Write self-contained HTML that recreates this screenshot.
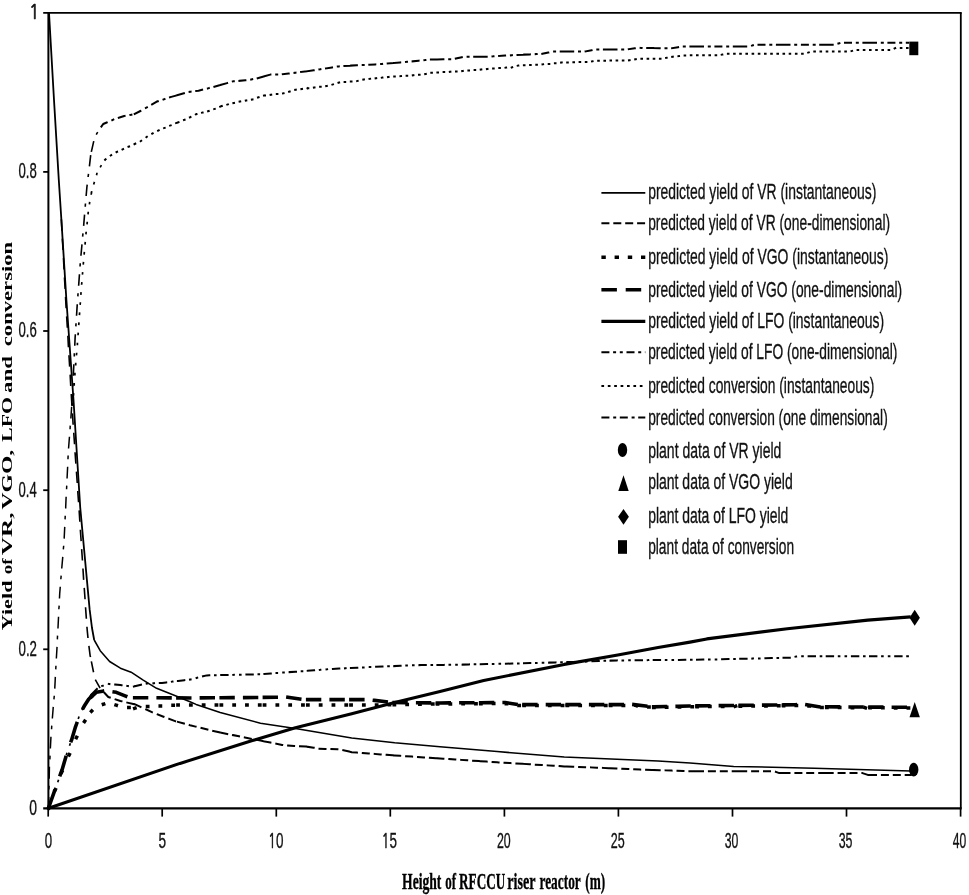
<!DOCTYPE html>
<html><head><meta charset="utf-8"><title>Yield of VR, VGO, LFO and conversion vs height of RFCCU riser reactor</title>
<style>html,body{margin:0;padding:0;background:#fff}svg{display:block}</style></head>
<body>
<svg width="969" height="895" viewBox="0 0 969 895">
<rect width="969" height="895" fill="#fff"/>
<g id="curves">
<path fill="none" stroke="#000" stroke-width="1.50" stroke-linecap="square" stroke-linejoin="round" d="M48.5,808.0 L48.7,797.7 M48.9,788.7 L49.0,786.5 M49.2,777.9 L49.4,767.5 M49.9,758.6 L50.0,756.4 M50.4,747.8 L50.9,738.0 L50.9,737.5 M51.6,728.5 L51.7,726.4 M52.4,717.8 L53.1,709.0 L53.2,707.6 M54.0,698.6 L54.2,696.5 M54.8,687.9 L55.2,680.0 L55.3,677.6 M55.8,668.6 L55.9,666.5 M56.4,657.8 L57.0,647.6 M57.4,638.6 L57.5,636.4 M58.0,627.8 L58.5,617.5 M58.9,608.5 L59.1,606.4 M59.5,597.7 L59.7,593.6 L60.2,587.5 M60.9,578.5 L61.1,576.4 M61.8,567.8 L62.7,557.6 M63.4,548.6 L63.6,546.5 M64.2,537.9 L64.7,527.6 M65.1,518.6 L65.2,516.5 M65.7,507.8 L65.7,507.0 L66.1,497.5 M66.6,488.5 L66.7,486.4 M67.1,477.8 L67.6,467.5 M68.0,458.5 L68.1,456.3 M68.6,447.7 L69.4,437.5 M70.1,428.5 L70.2,426.4 M70.9,417.8 L71.6,407.5"/>
<path fill="none" stroke="#000" stroke-width="2.0" stroke-linecap="square" stroke-linejoin="round" d="M105.1,159.8 L105.6,159.3 M110.7,155.5 L111.2,155.2 M116.5,152.1 L116.8,151.9 L117.1,151.8 M122.5,149.4 L123.1,149.1 M128.5,146.7 L129.1,146.5 M134.5,144.1 L134.7,144.0 M134.7,144.0 L135.3,143.7 M140.7,141.2 L141.2,140.8 M146.4,137.2 L146.9,136.8 M152.2,133.7 L152.7,133.4 M158.1,130.7 L158.7,130.4 M164.1,128.1 L164.7,127.9 M170.1,125.6 L170.7,125.4 M176.1,123.1 L176.7,122.9 M177.9,122.4 L178.5,122.2 M184.0,120.0 L184.6,119.8 M189.9,117.3 L190.5,117.0 M195.9,114.3 L196.0,114.2 L196.5,114.1 M202.0,112.7 L202.6,112.6 M208.1,111.2 L208.7,111.0 M214.2,109.1 L214.8,108.9 M220.2,106.6 L220.8,106.3 M221.2,106.2 L221.8,106.0 M227.3,104.6 L227.9,104.4 M233.4,103.0 L234.0,102.9 M239.6,101.6 L240.2,101.5 M245.8,100.6 L246.3,100.5 M251.9,99.6 L252.5,99.5 M258.0,97.5 L258.6,97.3 M264.0,95.5 L264.4,95.4 M264.4,95.4 L265.0,95.4 M270.6,94.8 L271.2,94.7 M276.8,94.1 L277.4,94.1 M283.0,93.4 L283.6,93.3 M289.1,91.7 L289.7,91.5 M295.2,89.8 L295.8,89.7 M301.4,89.0 L302.0,88.9 M307.6,88.3 L307.7,88.2 M307.7,88.2 L308.3,88.2 M313.9,87.5 L314.5,87.4 M320.1,86.7 L320.7,86.7 M326.2,86.0 L326.8,85.9 M332.4,84.6 L333.0,84.4 M338.5,82.7 L339.1,82.5 M344.6,82.0 L345.2,82.0 M350.8,81.6 L350.9,81.6 M350.9,81.6 L351.5,81.6 M357.1,81.1 L357.7,80.9 M363.3,79.6 L363.9,79.5 M369.5,78.9 L370.1,78.8 M375.6,78.3 L376.2,78.2 M381.8,77.7 L382.4,77.6 M388.0,77.1 L388.6,77.0 M394.2,76.6 L394.8,76.6 M400.4,76.2 L401.0,76.1 M406.6,75.7 L407.2,75.7 M412.8,75.3 L413.4,75.2 M419.0,74.8 L419.6,74.8 M425.2,74.1 L425.8,74.0 M431.3,72.8 L431.9,72.8 M437.4,72.4 L438.0,72.4 M443.6,72.1 L444.2,72.1 M449.8,71.8 L450.4,71.7 M456.0,71.4 L456.6,71.4 M462.2,71.0 L462.8,70.9 M468.4,70.5 L469.0,70.5 M474.6,70.0 L475.2,70.0 M480.7,69.6 L481.3,69.5 M486.9,69.1 L487.5,69.0 M493.1,68.6 L493.7,68.6 M499.3,68.1 L499.9,68.1 M505.5,67.7 L506.1,67.6 M511.7,67.5 L512.2,67.3 M517.7,65.7 L518.3,65.6 M523.9,65.3 L524.0,65.3 M524.0,65.3 L524.5,65.3 M530.1,65.0 L530.7,65.0 M536.3,64.7 L536.9,64.7 M542.5,64.4 L543.1,64.3 M548.7,64.0 L549.3,64.0 M554.9,63.3 L555.5,63.3 M561.1,62.6 L561.7,62.5 M567.2,62.4 L567.8,62.4 M573.4,62.3 L574.0,62.3 M579.6,62.1 L580.2,62.1 M585.8,62.0 L586.4,62.0 M592.0,61.4 L592.6,61.3 M598.2,60.8 L598.8,60.8 M604.4,60.7 L605.0,60.7 M610.5,60.6 L611.0,60.6 M616.6,60.5 L617.2,60.5 M622.8,60.4 L623.4,60.4 M629.0,60.3 L629.6,60.2 M635.2,59.3 L635.8,59.2 M641.4,58.8 L642.0,58.8 M647.6,58.8 L648.2,58.8 M653.7,58.8 L654.3,58.8 M659.9,58.8 L660.5,58.8 M666.1,57.9 L666.7,57.8 M672.2,56.8 L672.8,56.7 M678.4,56.2 L679.0,56.1 M684.6,55.6 L685.2,55.6 M690.8,55.3 L691.4,55.3 M697.0,55.3 L697.6,55.3 M703.2,55.3 L703.8,55.3 M709.4,55.3 L710.0,55.3 M715.6,55.3 L716.2,55.3 M721.7,54.7 L722.3,54.6 M727.9,53.8 L728.5,53.8 M734.1,53.8 L734.7,53.8 M740.2,53.8 L740.8,53.8 M746.4,53.8 L747.0,53.8 M752.6,53.8 L753.2,53.8 M758.8,53.8 L759.4,53.8 M765.0,53.8 L765.6,53.8 M771.2,53.8 L771.8,53.8 M777.4,53.8 L778.0,53.8 M783.5,53.8 L784.1,53.8 M789.7,53.8 L790.2,53.8 M795.9,53.8 L796.5,53.8 M802.1,53.8 L802.7,53.8 M808.2,52.6 L808.8,52.4 M814.3,51.6 L814.9,51.6 M820.5,51.6 L821.1,51.6 M826.7,51.6 L827.3,51.6 M832.9,51.6 L833.5,51.6 M839.1,51.6 L839.7,51.6 M845.3,51.6 L845.9,51.6 M851.5,51.1 L852.1,50.9 M857.6,50.1 L858.2,50.1 M863.8,50.1 L864.4,50.1 M870.0,50.1 L870.6,50.1 M876.2,50.1 L876.8,50.1 M882.4,50.1 L883.0,50.1 M888.6,50.1 L889.2,50.1 M894.6,48.5 L895.2,48.2 M900.8,47.9 L901.4,47.9 M907.0,47.9 L907.6,47.9"/>
<path fill="none" stroke="#000" stroke-width="1.70" stroke-linecap="square" stroke-linejoin="round" d="M72.8,405.0 L72.9,404.0 M73.5,394.9 L73.6,393.9 M74.2,384.8 L74.2,383.8 M74.9,374.7 L74.9,373.7 M75.7,364.6 L75.7,363.6 M76.5,354.5 L76.6,353.6 M77.4,344.5 L77.4,343.5 M78.1,334.4 L78.2,333.4 M78.8,324.3 L78.9,323.3 M79.5,314.2 L79.6,313.2 M80.2,304.1 L80.3,303.1 M80.9,294.0 L81.0,293.0 M81.7,283.9 L81.8,282.9 M82.5,273.8 L82.6,272.9 M83.3,263.8 L83.4,262.8 M84.2,253.7 L84.3,252.7 M85.1,243.7 L85.2,242.7 M86.0,233.6 L86.1,232.6 M87.1,223.6 L87.2,222.6 M88.1,213.6 L88.2,212.6 M89.5,203.6 L89.6,202.7 M91.3,193.9 L91.4,193.0 M91.5,192.8 L91.6,191.9 M93.9,183.6 L94.2,182.7 M96.7,174.4 L96.9,173.6 L96.9,173.5 M100.6,166.6 L101.0,165.9"/>
<path fill="none" stroke="#000" stroke-width="2.0" stroke-linecap="square" stroke-linejoin="round" d="M101.4,126.6 L103.2,124.0 L106.7,122.5 M112.3,120.1 L113.3,119.6 M118.8,117.8 L124.2,116.0 L124.6,115.9 M130.4,114.9 L131.4,114.7 M134.7,113.9 L140.4,111.0 M145.9,107.9 L146.9,107.4 M152.1,104.3 L156.4,101.8 L157.8,101.3 M163.5,99.5 L164.5,99.1 M170.0,97.3 L171.3,96.9 L175.9,95.6 M177.9,95.0 L183.9,93.3 M189.6,91.8 L190.6,91.7 M196.2,91.0 L198.5,90.7 L202.1,89.8 M207.9,88.4 L208.8,88.1 M214.4,86.7 L220.3,85.0 M221.2,84.8 L227.1,83.1 M232.8,81.4 L233.2,81.3 L233.8,81.3 M239.4,80.8 L245.4,80.3 M251.2,79.5 L252.2,79.3 M257.7,78.2 L263.6,76.5 M264.4,76.3 L270.3,74.6 L270.4,74.6 M276.2,74.6 L277.2,74.6 M282.8,74.2 L288.7,73.5 M294.5,72.8 L295.5,72.7 M301.1,72.0 L307.1,71.3 M307.7,71.2 L313.7,70.3 M319.4,69.4 L320.4,69.2 M326.0,68.4 L332.0,67.4 M337.8,66.5 L338.8,66.4 M344.4,66.0 L350.4,65.7 M350.9,65.6 L356.7,65.3 L356.9,65.3 M362.7,65.0 L363.7,65.0 M369.3,64.7 L375.3,64.4 M381.1,64.1 L381.5,64.1 L382.1,64.0 M387.7,63.5 L393.7,63.0 M394.2,63.0 L400.2,62.4 M406.0,61.9 L407.0,61.8 M412.6,61.3 L418.6,60.7 M424.4,60.2 L425.4,60.1 M430.9,59.6 L431.0,59.6 L436.9,59.5 M437.4,59.5 L443.4,59.3 M449.2,59.2 L450.2,59.2 M455.8,58.6 L461.8,57.3 M467.6,56.7 L468.6,56.7 M474.2,56.7 L480.2,56.7 M480.7,56.7 L486.7,56.7 M492.5,56.4 L493.5,56.3 M499.1,56.0 L505.1,55.6 M510.9,55.3 L511.9,55.2 M517.5,54.9 L523.5,54.7 M524.0,54.6 L529.9,54.4 M535.7,54.1 L536.7,54.0 M542.3,53.8 L548.3,52.6 M554.1,51.6 L555.1,51.6 M560.7,51.6 L566.7,51.6 M567.2,51.6 L573.2,51.6 M579.0,51.6 L580.0,51.6 M585.6,51.4 L591.6,50.3 M597.3,49.6 L598.3,49.6 M603.9,49.6 L609.9,49.6 M610.5,49.6 L616.5,49.6 M622.2,49.6 L623.2,49.6 M628.8,49.2 L634.8,48.3 M640.6,47.9 L641.6,48.0 M647.2,48.0 L653.2,48.1 M653.7,48.1 L659.7,48.2 M665.5,48.3 L666.5,48.3 M672.1,48.2 L678.1,47.2 M683.8,46.4 L684.8,46.4 M690.4,46.4 L696.4,46.4 M697.0,46.4 L703.0,46.4 M708.8,46.4 L709.8,46.4 M715.4,46.4 L721.4,46.4 M727.2,46.4 L728.2,46.4 M733.8,46.4 L739.8,46.4 M740.2,46.4 L746.2,46.4 M752.0,45.6 L752.9,45.3 M758.5,44.7 L764.5,44.7 M770.3,44.7 L771.3,44.7 M776.9,44.7 L782.9,44.7 M783.5,44.7 L789.5,44.7 M795.2,44.7 L796.2,44.7 M801.9,44.7 L807.9,44.7 M813.7,44.7 L814.7,44.7 M820.2,44.7 L826.2,44.7 M826.7,44.7 L832.7,44.7 M838.4,43.5 L839.4,43.2 M845.0,42.7 L851.0,42.7 M856.8,42.7 L857.8,42.7 M863.4,42.7 L869.4,42.7 M870.0,42.7 L876.0,42.7 M881.8,42.7 L882.8,42.7 M888.4,42.7 L894.4,42.7 M900.2,42.7 L901.2,42.7 M906.8,42.7 L908.2,42.7"/>
<path fill="none" stroke="#000" stroke-width="1.60" stroke-linecap="square" stroke-linejoin="round" d="M71.8,405.0 L72.3,395.2 M72.8,385.7 L72.9,384.1 M73.3,374.9 L73.5,371.4 L73.8,365.1 M74.3,355.7 L74.3,354.0 M74.8,344.9 L75.1,337.9 L75.3,335.1 M75.9,325.6 L76.0,324.0 M76.6,314.9 L77.2,305.1 M77.9,295.6 L78.0,294.0 M78.7,284.9 L79.4,275.1 M80.1,265.7 L80.2,264.1 L80.2,264.1 M81.0,255.0 L81.9,245.2 M82.7,235.8 L82.9,234.2 M83.7,225.1 L84.5,215.4 M85.3,206.0 L85.4,204.3 M86.2,195.2 L86.9,187.0 L87.1,185.5 M88.2,176.2 L88.4,174.6 M89.5,165.6 L90.6,155.9 M91.5,151.1 L93.6,141.9 M96.6,134.0 L96.9,133.4 L97.3,132.8"/>
<path fill="none" stroke="#000" stroke-width="2.0" stroke-linecap="square" stroke-linejoin="round" d="M91.5,694.5 L96.9,689.0 M102.2,685.9 L102.8,685.8 M108.8,684.0 L109.4,684.1 M115.2,684.6 L120.4,685.0 L121.6,685.2 M127.3,686.0 L127.9,686.1 M133.9,686.4 L134.5,686.2 M134.7,686.2 L141.0,684.7 M146.7,683.6 L147.3,683.5 M153.4,683.3 L154.0,683.2 M159.8,683.0 L162.0,682.9 L166.2,682.4 M171.9,681.7 L172.5,681.6 M177.9,680.9 L178.1,680.9 L184.3,680.2 M190.0,679.5 L190.6,679.4 M196.6,677.9 L197.2,677.7 M203.0,676.3 L206.8,675.4 L209.3,675.3 M215.0,675.2 L215.6,675.2 M221.2,675.1 L227.6,675.0 M233.3,674.9 L233.9,674.8 M240.0,674.7 L240.6,674.7 M246.4,674.6 L252.8,674.5 M258.5,674.3 L259.1,674.3 M264.4,674.0 L270.8,673.5 M276.5,673.1 L277.1,673.1 M283.2,672.6 L283.8,672.6 M289.6,672.1 L295.4,671.7 L296.0,671.7 M301.7,671.2 L302.3,671.2 M307.7,670.8 L314.1,670.3 M319.8,669.9 L320.4,669.8 M326.5,669.4 L327.1,669.3 M332.9,668.9 L335.6,668.7 L339.3,668.5 M345.0,668.3 L345.6,668.2 M350.9,668.0 L357.3,667.7 M363.0,667.4 L363.6,667.4 M369.7,667.1 L370.3,667.1 M376.1,666.8 L382.5,666.5 M388.2,666.3 L388.8,666.3 M394.2,666.1 L400.6,665.8 M406.3,665.6 L406.9,665.6 M413.0,665.3 L413.6,665.3 M419.4,665.1 L421.5,665.0 L425.8,665.0 M431.5,665.0 L432.1,665.0 M437.4,665.0 L440.0,665.0 L443.8,664.9 M449.5,664.8 L450.1,664.8 M456.2,664.7 L456.8,664.7 M462.6,664.6 L469.0,664.4 M474.7,664.3 L475.3,664.3 M480.7,664.2 L487.1,664.1 M492.8,664.0 L493.4,664.0 M499.5,663.8 L500.1,663.8 M505.9,663.7 L512.3,663.5 M518.0,663.4 L518.6,663.4 M524.0,663.2 L530.3,663.1 M536.0,662.9 L536.6,662.9 M542.7,662.7 L543.3,662.7 M549.1,662.6 L555.5,662.4 M561.2,662.3 L561.8,662.3 M567.2,662.1 L573.6,661.9 M579.3,661.7 L579.9,661.7 M586.0,661.5 L586.6,661.4 M592.4,661.3 L598.8,661.0 M604.5,660.8 L605.1,660.8 M610.5,660.6 L616.8,660.4 M622.5,660.4 L623.1,660.4 M629.2,660.3 L629.8,660.3 M635.6,660.3 L642.0,660.2 M647.7,660.2 L648.3,660.1 M653.7,660.1 L660.1,660.0 M665.8,660.0 L666.4,660.0 M672.5,659.9 L673.1,659.9 M678.9,659.9 L685.3,659.8 M691.0,659.8 L691.6,659.8 M697.0,659.7 L703.3,659.6 M709.0,659.5 L709.6,659.5 M715.7,659.4 L716.3,659.4 M722.1,659.2 L728.5,659.1 M734.2,659.0 L734.8,659.0 M740.2,658.8 L746.6,658.7 M752.3,658.6 L752.9,658.5 M759.0,658.4 L759.6,658.4 M765.4,658.3 L771.8,658.1 M777.5,658.0 L778.1,658.0 M783.5,657.8 L789.8,657.7 M795.5,656.7 L796.1,656.6 M802.2,656.3 L802.8,656.3 M808.6,656.3 L815.0,656.3 M820.7,656.3 L821.3,656.3 M826.7,656.3 L833.1,656.3 M838.8,656.3 L839.4,656.3 M845.5,656.3 L846.1,656.3 M851.9,656.3 L858.3,656.3 M864.0,656.3 L864.6,656.3 M870.0,656.3 L876.4,656.3 M882.1,656.3 L882.7,656.3 M888.8,656.3 L889.4,656.3 M895.2,656.3 L901.6,656.3 M907.2,656.3 L907.9,656.3"/>
<path fill="none" stroke="#000" stroke-width="1.70" stroke-linecap="square" stroke-linejoin="round" d="M48.5,808.0 L51.7,798.9 M54.6,790.9 L54.9,790.0 M58.0,781.4 L58.3,780.5 M61.2,772.3 L62.1,769.7 L64.1,762.9 M66.5,754.5 L66.8,753.6 M69.8,745.0 L70.1,744.1 M72.8,735.7 L75.5,726.8 L75.7,726.3 M78.5,718.2 L78.8,717.3 M82.4,709.4 L82.8,708.7 M86.8,701.8 L90.9,695.0 L91.4,694.5"/>
<path fill="none" stroke="#000" stroke-width="2.0" stroke-linecap="square" stroke-linejoin="round" d="M104.6,693.0 L108.3,697.0 L109.8,697.5 M115.6,699.4 L120.4,701.0 L121.5,701.2 M127.3,702.6 L133.3,704.0 M134.7,704.3 L135.1,704.4 L140.5,706.9 M146.2,709.5 L151.9,712.2 M157.7,714.5 L163.5,716.7 M169.3,718.9 L175.1,721.1 M177.9,721.9 L183.9,723.5 M189.7,725.1 L190.0,725.2 L195.6,726.6 M201.5,728.0 L207.4,729.5 M213.2,730.9 L219.2,732.3 M221.2,732.8 L227.2,734.0 M233.0,735.1 L239.0,736.3 M244.8,737.5 L250.8,738.7 M256.6,739.8 L260.5,740.6 L262.6,741.0 M264.4,741.4 L270.4,742.6 M276.3,743.7 L282.2,744.9 M288.1,745.6 L294.1,745.9 M300.0,746.2 L306.0,746.5 M307.7,746.8 L313.7,747.7 M319.5,748.7 L325.5,748.9 M331.4,749.0 L337.4,749.2 M343.3,750.3 L349.2,751.6 M350.9,752.0 L351.7,752.2 L356.9,752.6 M362.8,753.0 L368.8,753.5 M374.7,753.9 L380.7,754.4 M386.6,754.8 L392.6,755.2 M394.2,755.4 L394.7,755.4 L400.2,755.8 M406.1,756.2 L412.1,756.6 M418.0,757.0 L424.0,757.4 M429.9,757.8 L435.9,758.2 M437.4,758.3 L440.0,758.5 L443.4,758.7 M449.3,759.1 L455.3,759.5 M461.2,759.9 L467.2,760.3 M473.1,760.7 L479.1,761.1 M480.7,761.2 L486.7,761.6 M492.6,762.0 L497.1,762.3 L498.6,762.4 M504.5,762.8 L510.5,763.1 M516.4,763.5 L522.4,763.8 M524.0,763.9 L529.9,764.3 M535.8,764.7 L541.8,765.0 M547.7,765.4 L553.7,765.8 M559.6,766.1 L564.2,766.4 L565.6,766.5 M567.2,766.5 L573.2,766.8 M579.1,767.0 L585.1,767.2 M591.0,767.4 L597.0,767.7 M602.9,767.9 L608.9,768.2 M610.5,768.2 L616.4,768.4 M622.3,768.7 L628.3,769.0 M634.2,769.3 L640.2,769.6 M646.1,769.8 L652.1,770.0 M653.7,770.1 L659.7,770.3 M665.6,770.4 L671.6,770.6 M677.5,770.8 L683.5,771.0 M689.4,771.2 L690.0,771.2 L695.4,771.2 M697.0,771.2 L703.0,771.2 M708.9,771.2 L714.9,771.2 M720.8,771.2 L726.8,771.2 M732.7,771.2 L738.7,771.2 M740.2,771.2 L746.2,771.2 M752.1,771.2 L758.1,771.2 M764.0,771.2 L770.0,771.2 M775.9,771.9 L779.3,773.1 L781.8,773.1 M783.5,773.1 L789.5,773.1 M795.4,773.1 L801.4,773.1 M807.2,773.1 L813.2,773.1 M819.2,773.1 L825.2,773.1 M826.7,773.1 L832.7,773.1 M838.6,773.1 L844.6,773.1 M850.5,773.1 L856.5,773.1 M862.4,773.1 L862.5,773.1 L867.8,774.9 L868.3,774.9 M870.0,774.9 L876.0,774.9 M881.9,774.9 L887.9,774.9 M893.8,774.9 L899.8,774.9 M905.7,774.9 L910.7,774.9"/>
<path fill="none" stroke="#000" stroke-width="1.60" stroke-linecap="square" stroke-linejoin="round" d="M61.4,220.0 L61.9,229.8 M62.4,239.4 L63.0,249.2 M63.5,258.9 L64.0,268.7 M64.5,278.3 L65.1,288.1 M65.6,297.7 L65.7,300.0 L66.1,307.5 M66.7,317.2 L67.3,326.9 M67.9,336.6 L68.4,346.4 M69.0,356.0 L69.6,365.8 M70.2,375.4 L70.7,385.2 M71.3,394.8 L71.9,404.6 M72.5,414.2 L73.1,424.0 M73.8,433.6 L74.5,443.4 M75.1,453.0 L75.8,462.8 M76.5,472.4 L77.2,482.2 M77.8,491.8 L78.5,501.5 M79.2,511.2 L79.8,520.9 M80.4,530.6 L81.1,540.3 M81.7,549.9 L82.4,559.7 M83.0,569.3 L83.6,579.1 M84.3,588.7 L85.0,598.5 M85.6,608.1 L86.3,617.9 M87.0,627.5 L87.2,630.0 L87.9,637.2 M89.0,646.7 L90.2,656.1 L90.3,656.3 M91.5,662.2 L93.4,671.5 M95.7,680.3 L99.7,687.5"/>
<polyline fill="none" stroke="#000" stroke-width="1.8" stroke-linejoin="round" points="49.0,12.8 54.0,100.0 58.8,180.0 61.4,220.0 66.4,300.0 73.5,400.0 80.2,507.3 89.6,609.2 92.0,628.0 94.2,640.0"/>
<polyline fill="none" stroke="#000" stroke-width="1.55" stroke-linejoin="round" points="94.2,640.0 100.2,650.7 109.6,661.5 120.4,668.2 131.1,672.2 143.2,680.2 156.6,688.3 175.4,695.7 190.0,701.7 196.1,704.4 220.2,712.4 260.5,723.2 295.4,728.5 351.7,737.9 394.7,742.8 440.0,746.8 497.1,751.6 564.2,757.0 658.1,761.0 690.0,763.1 733.7,766.4 814.2,768.2 910.7,770.9"/>
<path fill="none" stroke="#000" stroke-width="3.5" stroke-linecap="square" stroke-linejoin="round" d="M91.5,711.2 L91.7,711.0 M103.4,704.2 L103.7,704.1 M116.0,705.1 L116.3,705.2 M128.8,707.5 L129.1,707.5 M134.7,708.3 L135.0,708.2 M147.5,706.5 L147.8,706.5 M160.2,705.9 L160.5,705.9 M173.0,705.3 L173.3,705.3 M177.9,705.1 L178.1,705.1 L178.2,705.1 M190.7,705.1 L191.0,705.1 M203.5,705.1 L203.8,705.1 M216.3,705.1 L216.6,705.1 M221.2,705.1 L221.5,705.1 M234.0,705.0 L234.3,705.0 M246.8,705.0 L247.1,705.0 M259.6,705.0 L259.9,705.0 M264.4,705.0 L264.7,705.0 M277.2,705.0 L277.5,705.0 M290.0,705.0 L290.3,705.0 M302.8,705.0 L303.1,705.0 M307.7,705.0 L308.0,705.0 M320.5,705.0 L320.8,705.0 M333.3,704.9 L333.6,704.9 M346.1,704.9 L346.4,704.9 M350.9,704.9 L351.2,704.9 M363.7,704.9 L364.0,704.9 M376.5,704.9 L376.8,704.9 M389.3,704.8 L389.6,704.8 M394.2,704.7 L394.5,704.7 M407.0,704.5 L407.3,704.5 M419.8,704.3 L420.1,704.3 M432.6,704.1 L432.9,704.1 M437.4,704.0 L437.7,704.0 M450.2,703.9 L450.5,703.9 M463.0,703.8 L463.3,703.8 M475.8,703.7 L476.1,703.7 M480.7,703.7 L481.0,703.7 M493.5,703.6 L493.8,703.6 M506.3,703.7 L506.6,703.7 M519.0,705.4 L519.3,705.4 M524.0,705.4 L524.2,705.4 M536.8,705.4 L537.1,705.4 M549.6,705.4 L549.9,705.4 M562.4,705.4 L562.7,705.4 M567.2,705.4 L567.5,705.4 M580.0,705.4 L580.3,705.4 M592.8,705.4 L593.1,705.4 M605.6,705.4 L605.9,705.4 M610.5,705.4 L610.8,705.4 M623.2,705.4 L623.6,705.4 M636.0,705.6 L636.3,705.7 M648.8,707.1 L649.1,707.1 M653.7,707.5 L654.0,707.5 M666.5,707.2 L666.8,707.2 M679.3,707.0 L679.6,707.0 M692.1,706.8 L692.4,706.8 M697.0,706.7 L697.2,706.7 M709.7,706.6 L710.0,706.6 M722.5,706.4 L722.8,706.4 M735.3,706.3 L735.6,706.2 M740.2,706.2 L740.5,706.2 M753.0,706.0 L753.3,706.0 M765.8,705.9 L766.1,705.9 M778.6,705.7 L778.9,705.7 M783.5,705.7 L783.7,705.7 M796.2,705.5 L796.5,705.5 M809.0,705.9 L809.3,705.9 M821.8,707.5 L822.1,707.5 M826.7,707.5 L827.0,707.5 M839.5,707.6 L839.8,707.6 M852.3,707.7 L852.6,707.7 M865.1,707.7 L865.4,707.8 M870.0,707.8 L870.2,707.8 M882.7,707.8 L883.0,707.8 M895.5,707.9 L895.8,707.9 M908.3,708.0 L908.6,708.0"/>
<path fill="none" stroke="#000" stroke-width="3.50" stroke-linecap="square" stroke-linejoin="round" d="M48.5,808.0 L48.7,807.6 M55.1,790.0 L55.3,789.6 M61.7,772.1 L61.9,771.7 M69.1,755.0 L69.3,754.6 M76.4,737.7 L76.6,737.3 M84.5,721.5 L84.7,721.2"/>
<path fill="none" stroke="#000" stroke-width="3.6" stroke-linecap="square" stroke-linejoin="round" d="M91.5,696.6 L96.2,692.3 L102.5,691.2 M114.2,692.0 L116.3,692.3 L125.7,696.1 M134.7,697.7 L146.5,697.8 M158.2,697.8 L170.0,697.9 M177.9,697.9 L189.7,698.0 M201.4,697.9 L213.2,697.8 M221.2,697.7 L233.0,697.6 M244.7,697.6 L256.5,697.5 M264.4,697.4 L276.2,697.3 M287.9,697.3 L299.7,699.0 M307.7,699.6 L319.5,699.6 M331.2,699.6 L343.0,699.6 M350.9,699.6 L362.8,699.6 M374.4,700.4 L386.2,701.8 M394.2,702.5 L406.0,702.6 M417.7,702.8 L429.5,702.9 M437.4,703.0 L440.0,703.0 L449.2,702.9 M460.9,702.8 L472.7,702.7 M480.7,702.7 L492.5,702.6 M504.2,702.5 L505.1,702.5 L516.0,704.2 M524.0,704.6 L535.8,704.6 M547.5,704.6 L559.2,704.6 M567.2,704.6 L579.0,704.6 M590.7,704.6 L602.5,704.6 M610.5,704.6 L622.2,704.6 M633.9,704.6 L645.7,706.0 M653.7,706.8 L665.5,706.5 M677.2,706.3 L689.0,706.0 M697.0,705.9 L708.7,705.8 M720.4,705.6 L732.2,705.5 M740.2,705.4 L752.0,705.3 M763.7,705.1 L775.5,705.0 M783.5,704.9 L795.2,704.7 M806.9,704.8 L818.7,706.7 M826.7,706.8 L838.5,706.9 M850.2,707.0 L862.0,707.0 M870.0,707.1 L881.7,707.1 M893.4,707.2 L905.2,707.3"/>
<path fill="none" stroke="#000" stroke-width="3.60" stroke-linecap="square" stroke-linejoin="round" d="M48.5,808.0 L54.4,791.3 M60.3,774.7 L62.1,769.7 L65.7,757.5 M71.3,740.7 L71.5,740.2 L75.5,726.8 L76.7,723.5 M83.3,707.8 L84.6,705.5 L88.8,699.0 L91.5,696.6"/>
<polyline fill="none" stroke="#000" stroke-width="3.1" stroke-linejoin="round" points="48.5,808.2 180.0,763.4 252.4,740.6 295.4,727.7 351.7,713.8 394.7,702.5 440.0,691.5 483.7,680.5 564.2,664.4 617.8,655.0 658.1,647.5 690.0,642.1 706.8,638.9 787.3,628.7 867.8,620.1 910.7,616.9"/>
</g>
<g id="axes">
<line x1="43.2" y1="12.8" x2="961.7" y2="12.8" stroke="#000" stroke-width="1.8"/>
<line x1="960.8" y1="12.8" x2="960.8" y2="808.4" stroke="#000" stroke-width="1.8"/>
<line x1="48.40" y1="11.9" x2="48.40" y2="809.6" stroke="#000" stroke-width="2.0"/>
<line x1="43.2" y1="808.4" x2="961.7" y2="808.4" stroke="#000" stroke-width="2.35"/>
<line x1="43.2" y1="171.9" x2="48.4" y2="171.9" stroke="#000" stroke-width="1.8"/>
<line x1="43.2" y1="331.0" x2="48.4" y2="331.0" stroke="#000" stroke-width="1.8"/>
<line x1="43.2" y1="490.2" x2="48.4" y2="490.2" stroke="#000" stroke-width="1.8"/>
<line x1="43.2" y1="649.3" x2="48.4" y2="649.3" stroke="#000" stroke-width="1.8"/>
<line x1="48.2" y1="808.4" x2="48.2" y2="816.6" stroke="#000" stroke-width="1.7"/>
<line x1="162.2" y1="808.4" x2="162.2" y2="816.6" stroke="#000" stroke-width="1.7"/>
<line x1="276.3" y1="808.4" x2="276.3" y2="816.6" stroke="#000" stroke-width="1.7"/>
<line x1="390.3" y1="808.4" x2="390.3" y2="816.6" stroke="#000" stroke-width="1.7"/>
<line x1="504.4" y1="808.4" x2="504.4" y2="816.6" stroke="#000" stroke-width="1.7"/>
<line x1="618.4" y1="808.4" x2="618.4" y2="816.6" stroke="#000" stroke-width="1.7"/>
<line x1="732.5" y1="808.4" x2="732.5" y2="816.6" stroke="#000" stroke-width="1.7"/>
<line x1="846.5" y1="808.4" x2="846.5" y2="816.6" stroke="#000" stroke-width="1.7"/>
<line x1="960.6" y1="808.4" x2="960.6" y2="816.6" stroke="#000" stroke-width="1.7"/>
</g>
<g id="markers">
<rect x="909.3" y="41.6" width="9.0" height="13.6" fill="#000"/>
<polygon points="914.7,609.7 919.9,617.7 914.7,625.7 909.5,617.7" fill="#000"/>
<polygon points="914.7,702.0 919.9,717.2 909.5,717.2" fill="#000"/>
<ellipse cx="913.7" cy="769.7" rx="4.7" ry="6.9" fill="#000"/>
</g>
<g id="legend">
<line x1="601.4" y1="192.8" x2="645.3" y2="192.8" stroke="#000" stroke-width="1.7"/>
<line x1="601.4" y1="223.2" x2="645.3" y2="223.2" stroke="#000" stroke-width="1.9" stroke-dasharray="8 3.9"/>
<line x1="601.4" y1="257.2" x2="645.3" y2="257.2" stroke="#000" stroke-width="3.6" stroke-dasharray="4.4 8.8"/>
<line x1="601.4" y1="289.8" x2="641.2" y2="289.8" stroke="#000" stroke-width="3.6" stroke-dasharray="15.5 8.8"/>
<line x1="601.4" y1="321.4" x2="645.3" y2="321.4" stroke="#000" stroke-width="3.1"/>
<line x1="601.4" y1="352.3" x2="645.3" y2="352.3" stroke="#000" stroke-width="2.0" stroke-dasharray="8 3.7 3 3.7 3 3.7"/>
<line x1="601.4" y1="386.0" x2="642.8" y2="386.0" stroke="#000" stroke-width="2.0" stroke-dasharray="2.7 3.7"/>
<line x1="601.4" y1="417.5" x2="645.3" y2="417.5" stroke="#000" stroke-width="2.0" stroke-dasharray="8 3.8 3 3.6"/>
<ellipse cx="622.5" cy="450.0" rx="4.7" ry="6.9" fill="#000"/>
<polygon points="623.5,475.3 628.7,490.9 618.3,490.9" fill="#000"/>
<polygon points="623.5,508.9 628.9,516.8 623.5,524.7 618.1,516.8" fill="#000"/>
<rect x="618.0" y="540.2" width="9.0" height="13.6" fill="#000"/>
</g>
<g id="labels">
<text transform="translate(648.17,199.30) scale(0.6189,1)" font-family="'Liberation Sans', Arial, Helvetica, sans-serif" font-weight="normal" font-size="22.5" fill="#111" stroke="#111" stroke-width="0.35">predicted yield of VR (instantaneous)</text>
<text transform="translate(648.18,230.00) scale(0.6148,1)" font-family="'Liberation Sans', Arial, Helvetica, sans-serif" font-weight="normal" font-size="22.5" fill="#111" stroke="#111" stroke-width="0.35">predicted yield of VR (one-dimensional)</text>
<text transform="translate(648.17,264.30) scale(0.6199,1)" font-family="'Liberation Sans', Arial, Helvetica, sans-serif" font-weight="normal" font-size="22.5" fill="#111" stroke="#111" stroke-width="0.35">predicted yield of VGO (instantaneous)</text>
<text transform="translate(648.18,296.70) scale(0.6157,1)" font-family="'Liberation Sans', Arial, Helvetica, sans-serif" font-weight="normal" font-size="22.5" fill="#111" stroke="#111" stroke-width="0.35">predicted yield of VGO (one-dimensional)</text>
<text transform="translate(648.17,328.40) scale(0.6185,1)" font-family="'Liberation Sans', Arial, Helvetica, sans-serif" font-weight="normal" font-size="22.5" fill="#111" stroke="#111" stroke-width="0.35">predicted yield of LFO (instantaneous)</text>
<text transform="translate(648.18,359.20) scale(0.6136,1)" font-family="'Liberation Sans', Arial, Helvetica, sans-serif" font-weight="normal" font-size="22.5" fill="#111" stroke="#111" stroke-width="0.35">predicted yield of LFO (one-dimensional)</text>
<text transform="translate(648.18,393.00) scale(0.6131,1)" font-family="'Liberation Sans', Arial, Helvetica, sans-serif" font-weight="normal" font-size="22.5" fill="#111" stroke="#111" stroke-width="0.35">predicted conversion (instantaneous)</text>
<text transform="translate(648.18,425.00) scale(0.6104,1)" font-family="'Liberation Sans', Arial, Helvetica, sans-serif" font-weight="normal" font-size="22.5" fill="#111" stroke="#111" stroke-width="0.35">predicted conversion (one dimensional)</text>
<text transform="translate(648.17,457.60) scale(0.6232,1)" font-family="'Liberation Sans', Arial, Helvetica, sans-serif" font-weight="normal" font-size="22.5" fill="#111" stroke="#111" stroke-width="0.35">plant data of VR yield</text>
<text transform="translate(648.17,489.20) scale(0.6220,1)" font-family="'Liberation Sans', Arial, Helvetica, sans-serif" font-weight="normal" font-size="22.5" fill="#111" stroke="#111" stroke-width="0.35">plant data of VGO yield</text>
<text transform="translate(648.17,522.50) scale(0.6197,1)" font-family="'Liberation Sans', Arial, Helvetica, sans-serif" font-weight="normal" font-size="22.5" fill="#111" stroke="#111" stroke-width="0.35">plant data of LFO yield</text>
<text transform="translate(648.18,554.10) scale(0.6114,1)" font-family="'Liberation Sans', Arial, Helvetica, sans-serif" font-weight="normal" font-size="22.5" fill="#111" stroke="#111" stroke-width="0.35">plant data of conversion</text>
<text transform="translate(29.12,18.90) scale(0.8667,1)" font-family="'Liberation Sans', Arial, Helvetica, sans-serif" font-weight="normal" font-size="21.3" fill="#111" stroke="#111" stroke-width="0.35"><tspan font-family="NanumGothic, 'Liberation Sans', sans-serif" font-size="19.8" stroke-width="0.7">1</tspan></text>
<text transform="translate(18.54,177.85) scale(0.6179,1)" font-family="'Liberation Sans', Arial, Helvetica, sans-serif" font-weight="normal" font-size="21.3" fill="#111" stroke="#111" stroke-width="0.35">0.8</text>
<text transform="translate(18.54,336.90) scale(0.6179,1)" font-family="'Liberation Sans', Arial, Helvetica, sans-serif" font-weight="normal" font-size="21.3" fill="#111" stroke="#111" stroke-width="0.35">0.6</text>
<text transform="translate(18.54,496.60) scale(0.6124,1)" font-family="'Liberation Sans', Arial, Helvetica, sans-serif" font-weight="normal" font-size="21.3" fill="#111" stroke="#111" stroke-width="0.35">0.4</text>
<text transform="translate(18.53,655.60) scale(0.6234,1)" font-family="'Liberation Sans', Arial, Helvetica, sans-serif" font-weight="normal" font-size="21.3" fill="#111" stroke="#111" stroke-width="0.35">0.2</text>
<text transform="translate(29.31,814.60) scale(0.6537,1)" font-family="'Liberation Sans', Arial, Helvetica, sans-serif" font-weight="normal" font-size="21.3" fill="#111" stroke="#111" stroke-width="0.35">0</text>
<text transform="translate(44.73,848.20) scale(0.6244,1)" font-family="'Liberation Sans', Arial, Helvetica, sans-serif" font-weight="normal" font-size="21.3" fill="#111" stroke="#111" stroke-width="0.35">0</text>
<text transform="translate(158.43,848.20) scale(0.6400,1)" font-family="'Liberation Sans', Arial, Helvetica, sans-serif" font-weight="normal" font-size="21.3" fill="#111" stroke="#111" stroke-width="0.35">5</text>
<text transform="translate(268.36,848.20) scale(0.6321,1)" font-family="'Liberation Sans', Arial, Helvetica, sans-serif" font-weight="normal" font-size="21.3" fill="#111" stroke="#111" stroke-width="0.35"><tspan font-family="NanumGothic, 'Liberation Sans', sans-serif" font-size="19.8" stroke-width="0.7">1</tspan>0</text>
<text transform="translate(381.87,848.20) scale(0.6321,1)" font-family="'Liberation Sans', Arial, Helvetica, sans-serif" font-weight="normal" font-size="21.3" fill="#111" stroke="#111" stroke-width="0.35"><tspan font-family="NanumGothic, 'Liberation Sans', sans-serif" font-size="19.8" stroke-width="0.7">1</tspan>5</text>
<text transform="translate(496.90,848.20) scale(0.5818,1)" font-family="'Liberation Sans', Arial, Helvetica, sans-serif" font-weight="normal" font-size="21.3" fill="#111" stroke="#111" stroke-width="0.35">20</text>
<text transform="translate(610.76,848.20) scale(0.5885,1)" font-family="'Liberation Sans', Arial, Helvetica, sans-serif" font-weight="normal" font-size="21.3" fill="#111" stroke="#111" stroke-width="0.35">25</text>
<text transform="translate(724.79,848.20) scale(0.5753,1)" font-family="'Liberation Sans', Arial, Helvetica, sans-serif" font-weight="normal" font-size="21.3" fill="#111" stroke="#111" stroke-width="0.35">30</text>
<text transform="translate(838.65,848.20) scale(0.5818,1)" font-family="'Liberation Sans', Arial, Helvetica, sans-serif" font-weight="normal" font-size="21.3" fill="#111" stroke="#111" stroke-width="0.35">35</text>
<text transform="translate(952.68,848.20) scale(0.5689,1)" font-family="'Liberation Sans', Arial, Helvetica, sans-serif" font-weight="normal" font-size="21.3" fill="#111" stroke="#111" stroke-width="0.35">40</text>
<g aria-label="Height of RFCCU riser reactor (m)">
<text transform="translate(402.10,888.70) scale(0.6023,1)" font-family="'Liberation Serif', 'Times New Roman', Times, serif" font-weight="bold" font-size="22.6" fill="#000" stroke="#000" stroke-width="0.35">Height</text>
<text transform="translate(445.37,888.70) scale(0.5753,1)" font-family="'Liberation Serif', 'Times New Roman', Times, serif" font-weight="bold" font-size="22.6" fill="#000" stroke="#000" stroke-width="0.35">of</text>
<text transform="translate(459.11,888.70) scale(0.5821,1)" font-family="'Liberation Serif', 'Times New Roman', Times, serif" font-weight="bold" font-size="22.6" fill="#000" stroke="#000" stroke-width="0.35">RFCCU</text>
<text transform="translate(507.19,888.70) scale(0.6260,1)" font-family="'Liberation Serif', 'Times New Roman', Times, serif" font-weight="bold" font-size="22.6" fill="#000" stroke="#000" stroke-width="0.35">riser</text>
<text transform="translate(539.50,888.70) scale(0.5905,1)" font-family="'Liberation Serif', 'Times New Roman', Times, serif" font-weight="bold" font-size="22.6" fill="#000" stroke="#000" stroke-width="0.35">reactor</text>
<text transform="translate(585.21,888.70) scale(0.5875,1)" font-family="'Liberation Serif', 'Times New Roman', Times, serif" font-weight="bold" font-size="22.6" fill="#000" stroke="#000" stroke-width="0.35">(m)</text>
</g>
<g aria-label="Yield of VR, VGO, LFO and conversion">
<text transform="translate(11.7,630.38) rotate(-90) scale(1.5256,1)" font-family="'Liberation Serif', 'Times New Roman', Times, serif" font-weight="bold" font-size="14.6" fill="#000">Yield</text>
<text transform="translate(11.7,574.14) rotate(-90) scale(1.2851,1)" font-family="'Liberation Serif', 'Times New Roman', Times, serif" font-weight="bold" font-size="14.6" fill="#000">of</text>
<text transform="translate(11.7,555.13) rotate(-90) scale(1.7250,1)" font-family="'Liberation Serif', 'Times New Roman', Times, serif" font-weight="bold" font-size="14.6" fill="#000">VR,</text>
<text transform="translate(11.7,509.40) rotate(-90) scale(1.6139,1)" font-family="'Liberation Serif', 'Times New Roman', Times, serif" font-weight="bold" font-size="14.6" fill="#000">VGO,</text>
<text transform="translate(11.7,441.98) rotate(-90) scale(1.5034,1)" font-family="'Liberation Serif', 'Times New Roman', Times, serif" font-weight="bold" font-size="14.6" fill="#000">LFO</text>
<text transform="translate(11.7,392.99) rotate(-90) scale(1.5783,1)" font-family="'Liberation Serif', 'Times New Roman', Times, serif" font-weight="bold" font-size="14.6" fill="#000">and</text>
<text transform="translate(11.7,346.18) rotate(-90) scale(1.5504,1)" font-family="'Liberation Serif', 'Times New Roman', Times, serif" font-weight="bold" font-size="14.6" fill="#000">conversion</text>
</g>
</g>
</svg>
</body></html>
